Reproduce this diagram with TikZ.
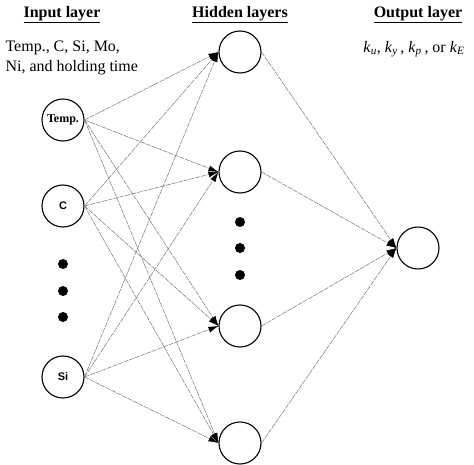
\documentclass[tikz,border=0pt]{standalone}
\usepackage{fontspec}
\setmainfont{Liberation Serif}
\newfontfamily\arialfont{Liberation Sans}
\usetikzlibrary{arrows.meta}
\newcommand{\kk}[1]{\textit{k}\textsubscript{\textit{#1}}}
\begin{document}
\begin{tikzpicture}[x=1pt,y=-1pt,
  neuron/.style={circle,draw=black,line width=1.1pt,minimum size=42pt,inner sep=0pt},
  link/.style={draw=black!55,line width=0.5pt,dash pattern=on 5pt off 1pt,
    -{Latex[length=10pt,width=6pt,black]}},
  dotn/.style={circle,fill=black,minimum size=10pt,inner sep=0pt},
  title/.style={font=\bfseries\fontsize{16}{18}\selectfont},
  txt/.style={font=\fontsize{16}{20}\selectfont,align=left}]
\useasboundingbox (0,0) rectangle (474,465);
% titles
\node[title] (t1) at (62,15) {\underline{Input layer}};
\node[title] (t2) at (240,15) {\underline{Hidden layers}};
\node[title] (t3) at (418,15) {\underline{Output layer}};
\node[txt,anchor=west] (desc) at (2,58) {Temp., C, Si, Mo,\\Ni, and holding time};
\node[font=\fontsize{16}{18}\selectfont] (outtxt) at (414,49) {\kk{u}, \kk{y}\,, \kk{p}\,, or \kk{E}};
% input nodes
\node[neuron,font=\bfseries\fontsize{12}{14}\selectfont] (i1) at (63,120) {Temp.};
\node[neuron,font=\arialfont\bfseries\fontsize{11}{13}\selectfont] (i2) at (63,206) {C};
\node[neuron,font=\arialfont\bfseries\fontsize{11}{13}\selectfont] (i3) at (63,377) {Si};
\node[dotn] (d1) at (63,264) {};
\node[dotn] (d2) at (63,291) {};
\node[dotn] (d3) at (63,317) {};
% hidden nodes
\node[neuron] (h1) at (240,52) {};
\node[neuron] (h2) at (240,172) {};
\node[neuron] (h3) at (240,326) {};
\node[neuron] (h4) at (240,443) {};
\node[dotn] (e1) at (240,222) {};
\node[dotn] (e2) at (240,248) {};
\node[dotn] (e3) at (240,275) {};
% output
\node[neuron] (o) at (418,248) {};
% connections
\foreach \i in {i1,i2,i3}{
  \foreach \h in {h1,h2,h3,h4}{
    \draw[link] (\i.east) -- (\h.west);
  }
}
\foreach \h in {h1,h2,h3,h4}{
  \draw[link] (\h.east) -- (o.west);
}
\end{tikzpicture}
\end{document}
